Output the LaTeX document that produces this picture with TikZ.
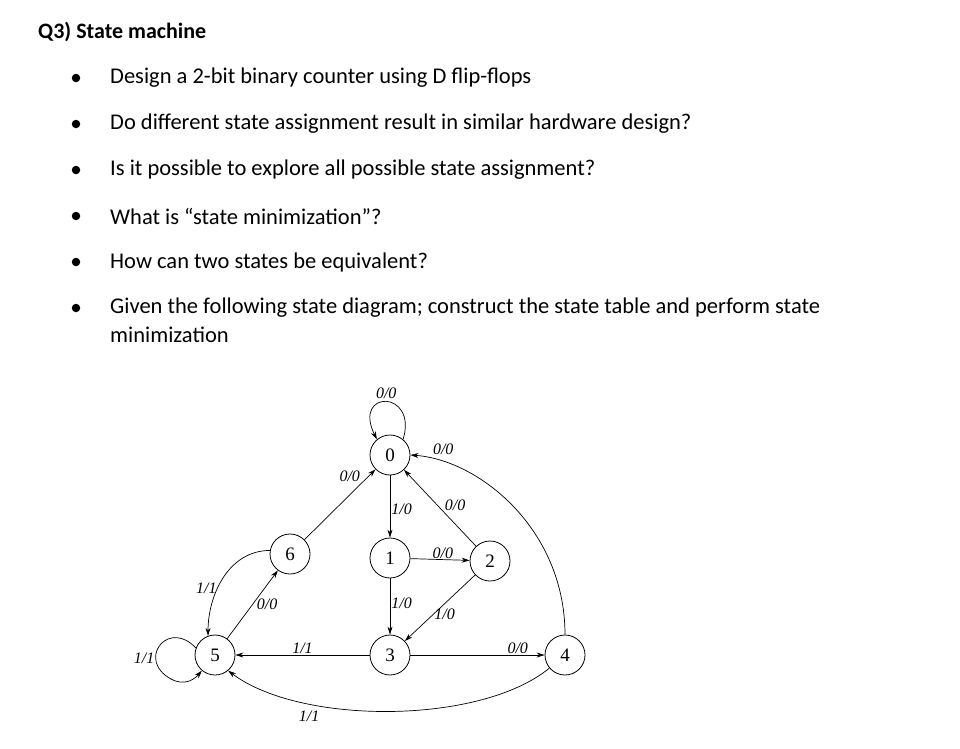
\documentclass[tikz,border=0pt]{standalone}
\usepackage{fontspec}
\setmainfont{Carlito}
\newfontfamily\tms{Liberation Serif}
\usetikzlibrary{arrows.meta}
\begin{document}
\begin{tikzpicture}[x=1pt,y=-1pt,
  txt/.style={anchor=west,inner sep=0pt,font=\fontsize{22.5}{26}\selectfont},
  bul/.style={circle,fill=black,inner sep=0pt,minimum size=8.5pt},
  st/.style={circle,draw,line width=0.8pt,minimum size=40pt,inner sep=0pt,font=\tms\fontsize{19}{19}\selectfont},
  lb/.style={font=\tms\itshape\fontsize{16}{16}\selectfont,inner sep=1pt},
  ed/.style={-{Stealth[length=8pt,width=5pt]},line width=0.7pt}]
\useasboundingbox (0,0) rectangle (960,748);
\node[txt,font=\bfseries\fontsize{22}{26}\selectfont] (t) at (38,32) {Q3) State machine};
\foreach \y/\s [count=\i] in {78/{Design a 2-bit binary counter using D flip-flops},124/{Do different state assignment result in similar hardware design?},170/{Is it possible to explore all possible state assignment?},216/{What is “state minimization”?},262/{How can two states be equivalent?},308/{Given the following state diagram; construct the state table and perform state}}{
  \node[bul] (b\i) at (76,\y) {};
  \node[txt] (l\i) at (110,\y) {\s};
}
\node[txt] (l7) at (110,335) {minimization};
\node[st] (s0) at (390,455) {0};
\node[st] (s1) at (390,558) {1};
\node[st] (s2) at (490,561) {2};
\node[st] (s3) at (390,655) {3};
\node[st] (s4) at (565,655) {4};
\node[st] (s5) at (215,655) {5};
\node[st] (s6) at (290,554) {6};
\draw[ed] (s0.50) .. controls +(15,-50) and +(-25,-50) .. (s0.130) node[lb,pos=0.5,above,yshift=2pt] {0/0};
\draw[ed] (s0) -- node[lb,right,pos=0.55] {1/0} (s1);
\draw[ed] (s1) -- node[lb,above,pos=0.55] {0/0} (s2);
\draw[ed] (s2) -- node[lb,above right,pos=0.45] {0/0} (s0);
\draw[ed] (s6) -- node[lb,above left,pos=0.8] {0/0} (s0);
\draw[ed] (s1) -- node[lb,right,pos=0.45] {1/0} (s3);
\draw[ed] (s2) -- node[lb,right,pos=0.6] {1/0} (s3);
\draw[ed] (s3) -- node[lb,above,pos=0.8] {0/0} (s4);
\draw[ed] (s3) -- node[lb,above,pos=0.5] {1/1} (s5);
\draw[ed] (s5) -- node[lb,right,pos=0.5,xshift=3pt] {0/0} (s6);
\draw[ed] (s6.170) to[out=180,in=90] node[lb,left,pos=0.6] {1/1} (s5.110);
\draw[ed] (s5.160) .. controls (170,620) and (140,655) .. node[lb,pos=0.75,left] {1/1} (165,675) .. controls (180,687) and (192,682) .. (s5.230);
\draw[ed] (s4.north) .. controls (565,530) and (480,460) .. node[lb,pos=0.9,above right,yshift=2pt] {0/0} (s0.east);
\draw[ed] (s4.220) .. controls (480,725) and (300,725) .. node[lb,pos=0.72,below,yshift=-6pt] {1/1} (s5.310);
\end{tikzpicture}
\end{document}
